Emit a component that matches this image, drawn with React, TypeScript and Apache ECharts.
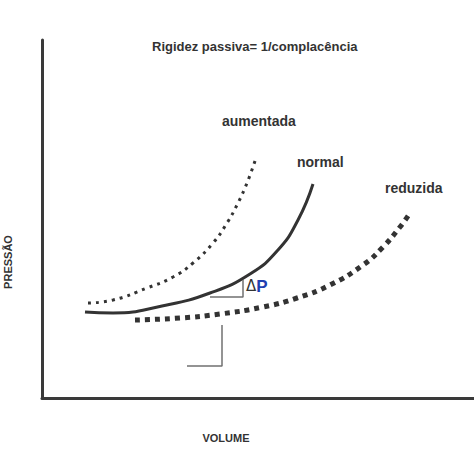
import { useEffect, useRef } from "react";
import * as echarts from "echarts";

// curves: [volume, pressão]
const normalCurve: [number, number][] = [
  [10.75, 21.5], [17.75, 21.25], [30, 23], [42, 26.25],
  [52, 31], [59, 37], [64, 44.5], [67.75, 53.5],
];
const aumentadaCurve: [number, number][] = [
  [11.5, 23.75], [17.75, 24.5], [26.25, 27.5], [32.75, 30.25], [37.75, 33.75],
  [42.75, 38.75], [46.25, 43.75], [49, 48.75], [51.25, 53.75], [53.25, 59.25],
];
const reduzidaCurve: [number, number][] = [
  [23.25, 19.5], [34.5, 20], [44.5, 21], [55.25, 22.75], [63.75, 25],
  [72, 28.25], [80.25, 33.25], [85.25, 37.75], [89.5, 42.75], [92, 46.25],
];
const deltaTriangle: [number, number][] = [[42, 25.25], [50.25, 25.25], [50.25, 29.5]];
const bracket: [number, number][] = [[36.25, 8], [45, 8], [45, 18.25]];

const titleText = "Rigidez passiva= 1/complacência";
const xName = "VOLUME";
const yName = "PRESSÃO";

const FONT = "'Liberation Sans', Arial, sans-serif";
const INK = "#333333";

export default function App() {
  const ref = useRef<HTMLDivElement | null>(null);

  useEffect(() => {
    if (!ref.current) return;
    const chart = echarts.init(ref.current, undefined, { renderer: "svg" });

    const label = (text: string, x: number, y: number) => ({
      type: "text",
      x,
      y,
      style: { text, fill: INK, font: `bold 14px ${FONT}`, textAlign: "left", textVerticalAlign: "middle" },
    });

    const curve = (name: string, data: [number, number][], lineStyle: object) => ({
      name,
      type: "line",
      data,
      smooth: true,
      showSymbol: false,
      silent: true,
      lineStyle,
    });

    chart.setOption({
      animation: false,
      backgroundColor: "#ffffff",
      title: {
        text: titleText,
        left: 147,
        top: 35,
        textStyle: { color: INK, fontSize: 13, fontWeight: "bold", fontFamily: FONT },
      },
      grid: { left: 42, right: 0, top: 40, bottom: 76 },
      xAxis: {
        type: "value",
        min: 0,
        max: 108,
        name: xName,
        nameLocation: "middle",
        nameGap: 34,
        nameTextStyle: { color: INK, fontSize: 11, fontWeight: "bold", fontFamily: FONT, padding: [0, 64, 0, 0] },
        axisLine: { lineStyle: { color: "#3a3a3a", width: 3 } },
        axisTick: { show: false },
        axisLabel: { show: false },
        splitLine: { show: false },
      },
      yAxis: {
        type: "value",
        min: 0,
        max: 89.5,
        axisLine: { show: true, lineStyle: { color: "#3a3a3a", width: 3 } },
        axisTick: { show: false },
        axisLabel: { show: false },
        splitLine: { show: false },
      },
      graphic: [
        label("aumentada", 222, 121),
        label("normal", 297, 162),
        label("reduzida", 385, 188),
        {
          type: "text",
          x: 8,
          y: 262,
          rotation: Math.PI / 2,
          style: {
            text: yName,
            fill: INK,
            font: `bold 11px ${FONT}`,
            textAlign: "center",
            textVerticalAlign: "middle",
          },
        },
        {
          type: "text",
          x: 246,
          y: 286,
          style: {
            text: "{a|Δ}{b|P}",
            textVerticalAlign: "middle",
            rich: {
              a: { fill: INK, font: `15px 'DejaVu Sans', sans-serif` },
              b: { fill: "#1f3fb0", font: `bold 17px ${FONT}` },
            },
          },
        },
      ],
      series: [
        curve("normal", normalCurve, { color: INK, width: 3 }),
        curve("aumentada", aumentadaCurve, { color: INK, width: 3, type: [3, 5] }),
        curve("reduzida", reduzidaCurve, { color: INK, width: 5, type: [5, 5] }),
        {
          name: "deltaP",
          type: "line",
          data: deltaTriangle,
          showSymbol: false,
          silent: true,
          lineStyle: { color: "#707070", width: 1.5 },
        },
        {
          name: "bracket",
          type: "line",
          data: bracket,
          showSymbol: false,
          silent: true,
          lineStyle: { color: "#707070", width: 1.5 },
        },
      ],
    });

    return () => chart.dispose();
  }, []);

  return (
    <div
      ref={ref}
      style={{ position: "fixed", left: 0, top: 0, width: 474, height: 474, background: "#fff" }}
    />
  );
}
